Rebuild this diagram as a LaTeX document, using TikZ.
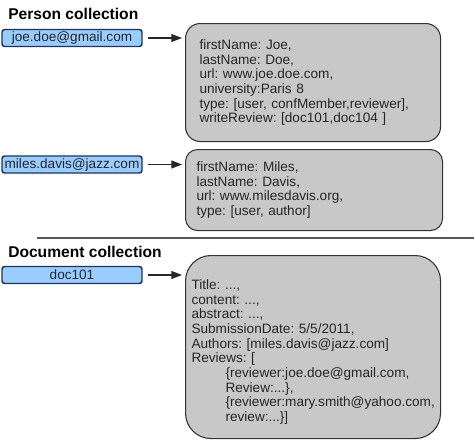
\documentclass[tikz,border=0pt]{standalone}
\usepackage{fontspec}
\setmainfont{Liberation Sans}
\usetikzlibrary{positioning,arrows.meta}
\definecolor{keyblue}{RGB}{153,204,255}
\definecolor{keyline}{RGB}{28,52,92}
\definecolor{docgray}{RGB}{200,200,200}
\definecolor{inkgray}{RGB}{38,38,38}
\frenchspacing

\begin{document}
\begin{tikzpicture}[
    x=0.75pt, y=-0.75pt,
    >={Triangle[length=8pt,width=6pt]},
    font=\fontsize{10.2}{11}\selectfont,
    coll/.style={font=\fontsize{11.7}{13}\selectfont\bfseries, anchor=base west, inner sep=0pt},
    key/.style={draw=keyline, line width=1.1pt, fill=keyblue, rounded corners=2pt,
                minimum width=105pt, minimum height=12.75pt, inner sep=0pt, text=inkgray},
    doc/.style={draw=black!80, line width=0.8pt, fill=docgray, anchor=north west,
                align=left, text=inkgray, inner ysep=0pt},
    link/.style={->, draw=black!85, line width=0.8pt, shorten <=3.75pt, shorten >=2.25pt},
    rule/.style={draw=black!65, line width=1.2pt},
  ]
    \useasboundingbox (0,0) rectangle (474,439);

    % person collection
    \node[coll] (pcoll) at (8,19) {Person collection};
    \node[key] (joe) at (72,38) {joe.doe@gmail.com};
    \node[doc, rounded corners=11pt, text width=170.25pt, inner xsep=10.5pt,
          minimum height=88.5pt] (joeval) at (185,23)
      {firstName: Joe,\\lastName: Doe,\\url: www.joe.doe.com,\\university:Paris 8\\
       type: [user, confMember,reviewer],\\writeReview: [doc101,doc104 ]};

    \node[key] (miles) at (72,164.5) {miles.davis@jazz.com};
    \node[doc, rounded corners=9pt, text width=176.25pt, inner xsep=8.25pt,
          minimum height=60.75pt] (milesval) at (185,149)
      {firstName: Miles,\\lastName: Davis,\\url: www.milesdavis.org,\\type: [user, author]};

    \draw[link] (joe) -- (joe -| joeval.west);
    \draw[link] (miles) -- (miles -| milesval.west);

    \coordinate (sepL) at (37,238);
    \coordinate (sepR) at (474,238);
    \draw[rule] (sepL) -- (sepR);

    % document collection
    \node[coll] (dcoll) at (8,257) {Document collection};
    \node[key] (doc101) at (72,275) {doc101};
    \node[doc, rounded corners=19pt, text width=182.25pt, inner xsep=4.5pt,
          minimum height=137.25pt] (docval) at (185,255)
      {\rule{0pt}{15pt}Title: ...,\\content: ...,\\abstract: ...,\\SubmissionDate: 5/5/2011,\\
       Authors: [miles.davis@jazz.com]\\Reviews: [\\
       \mbox{\hspace*{25.5pt}\{reviewer:joe.doe@gmail.com,}\\
       \mbox{\hspace*{25.5pt}Review:...\},}\\
       \mbox{\hspace*{25.5pt}\{reviewer:mary.smith@yahoo.com,}\\
       \mbox{\hspace*{25.5pt}review:...\}]}};

    \draw[link] (doc101) -- (doc101 -| docval.west);
\end{tikzpicture}
\end{document}
